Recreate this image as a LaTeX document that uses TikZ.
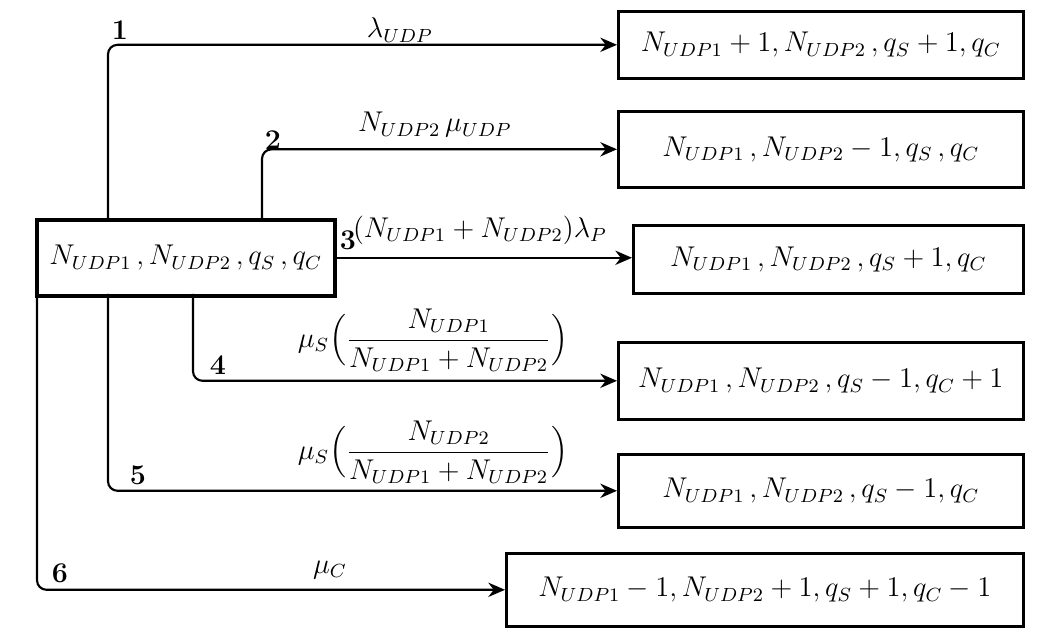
\documentclass[tikz,border=0pt]{standalone}
\usepackage{amsmath}
\usetikzlibrary{arrows.meta}
\begin{document}
\begin{tikzpicture}[x=0.42pt,y=-0.42pt,font=\large,
  box/.style={draw,line width=1.1pt,inner sep=0pt,anchor=north west},
  conn/.style={line width=0.9pt,-{Stealth[length=7pt,width=6pt]},rounded corners=4pt},
  num/.style={font=\large\bfseries}]
\useasboundingbox (0,0) rectangle (1046,641);
\node[box,line width=1.5pt,minimum width=298*0.42pt,minimum height=76*0.42pt] (m) at (35,218) {$N_{UDP1}\,, N_{UDP2}\,, q_S\,, q_C$};
\node[box,minimum width=405*0.42pt,minimum height=67*0.42pt] (b1) at (617,10) {$N_{UDP1}+1, N_{UDP2}\,, q_S+1, q_C$};
\node[box,minimum width=405*0.42pt,minimum height=76*0.42pt] (b2) at (617,110) {$N_{UDP1}\,, N_{UDP2}-1, q_S\,, q_C$};
\node[box,minimum width=390*0.42pt,minimum height=68*0.42pt] (b3) at (632,224) {$N_{UDP1}\,, N_{UDP2}\,, q_S+1, q_C$};
\node[box,minimum width=405*0.42pt,minimum height=77*0.42pt] (b4) at (617,341) {$N_{UDP1}\,, N_{UDP2}\,, q_S-1, q_C+1$};
\node[box,minimum width=405*0.42pt,minimum height=73*0.42pt] (b5) at (617,453) {$N_{UDP1}\,, N_{UDP2}\,, q_S-1, q_C$};
\node[box,minimum width=517*0.42pt,minimum height=73*0.42pt] (b6) at (505,552) {$N_{UDP1}-1, N_{UDP2}+1, q_S+1, q_C-1$};
\coordinate (s1) at (108,218); \coordinate (s2) at (262,218);
\coordinate (s4) at (193,294); \coordinate (s5) at (108,294); \coordinate (s6) at (37,294);
\draw[conn] (s1) |- (b1.west);
\draw[conn] (s2) |- (b2.west);
\draw[conn] (m.east) -- (m.east -| b3.west);
\draw[conn] (s4) |- (b4.west);
\draw[conn] (s5) |- (b5.west);
\draw[conn] (s6) |- (b6.west);
\node[num] (n1) at (120,30) {1};
\node[num] (n2) at (273,140) {2};
\node[num] (n3) at (348,240) {3};
\node[num] (n4) at (218,365) {4};
\node[num] (n5) at (138,475) {5};
\node[num] (n6) at (60,573) {6};
\node (l1) at (400,30) {$\lambda_{UDP}$};
\node (l2) at (435,125) {$N_{UDP2}\,\mu_{UDP}$};
\node (l3) at (480,230) {$(N_{UDP1}+N_{UDP2})\lambda_P$};
\node (l4) at (433,340) {$\mu_S\Bigl(\dfrac{N_{UDP1}}{N_{UDP1}+N_{UDP2}}\Bigr)$};
\node (l5) at (433,452) {$\mu_S\Bigl(\dfrac{N_{UDP2}}{N_{UDP1}+N_{UDP2}}\Bigr)$};
\node (l6) at (330,570) {$\mu_C$};
\end{tikzpicture}
\end{document}
